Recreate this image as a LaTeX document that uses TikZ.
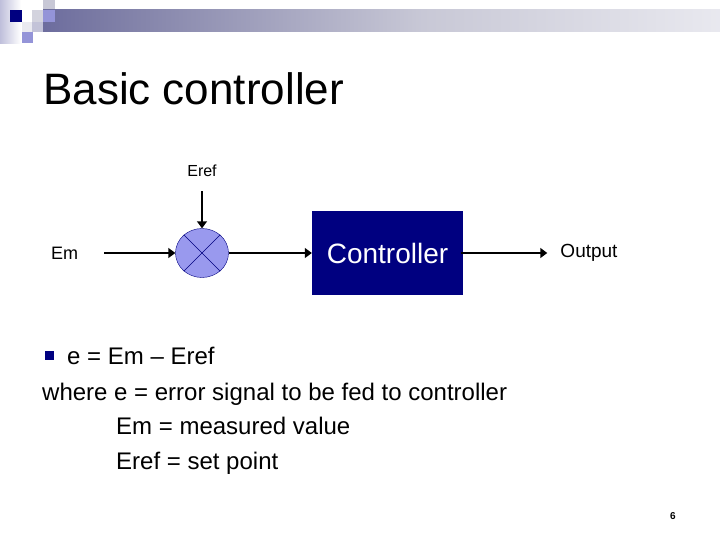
\documentclass[tikz,border=0pt]{standalone}
\usepackage{fontspec}
\setmainfont{Liberation Sans}
\usetikzlibrary{shapes.geometric}
\usetikzlibrary{arrows.meta}

\definecolor{slidenavy}{RGB}{0,0,128}
\definecolor{barnavy}{RGB}{26,26,120}
\definecolor{barmid}{RGB}{122,122,164}
\definecolor{barlight}{RGB}{200,200,214}
\definecolor{barpale}{RGB}{234,234,240}
\definecolor{sumfill}{RGB}{153,153,238}
\pgfdeclarehorizontalshading{titlebar}{100bp}{color(0bp)=(barnavy); color(29bp)=(barmid); color(53bp)=(barlight); color(76bp)=(barpale); color(95bp)=(white); color(100bp)=(white)}

\tikzset{
  flow/.style={line width=1.5pt, -{Triangle[length=7pt,width=10pt]}},
  sumjunction/.style={ellipse, draw=slidenavy, fill=sumfill, minimum width=53pt, minimum height=49pt},
  ctrlbox/.style={rectangle, fill=slidenavy, text=white, minimum width=151pt, minimum height=84pt, font=\fontsize{28}{32}\selectfont},
  bodytext/.style={anchor=base west, font=\fontsize{24}{28}\selectfont}
}

\begin{document}
\begin{tikzpicture}[x=1pt, y=-1pt, every node/.style={inner sep=0pt, font=\fontsize{18}{22}\selectfont}]
\useasboundingbox [fill=white] (0,0) rectangle (720,540);

% squares and bar at the top
\shade [left color=barlight!80!sumfill, right color=white] (0,0) rectangle (21,44);
\fill [slidenavy] (10,10) rectangle (22,22);
\fill [barpale] (22,22) rectangle (32,32);
\fill [barlight!80] (32,10) rectangle (43,22);
\fill [barlight] (43,0) rectangle (55,10);
\shade [shading=titlebar] (43,10) rectangle (720,32);
\fill [sumfill!80!gray] (43,10) rectangle (55,22);
\fill [barlight!90!sumfill] (32,22) rectangle (43,32);
\fill [sumfill!80!gray] (22,32) rectangle (33,43);

\node [anchor=base west, font=\fontsize{44}{48}\selectfont] (title) at (43,105) {Basic controller};

% block diagram
\node [font=\fontsize{16}{20}\selectfont] (eref) at (202,171) {Eref};
\node (em) at (64.5,253) {Em};
\node [sumjunction] (sum) at (202,253) {};
\draw [slidenavy] (sum.135) -- (sum.-45);
\draw [slidenavy] (sum.45) -- (sum.-135);
\node [ctrlbox] (ctrl) at (387.5,253) {Controller};
\node [font=\fontsize{19}{22}\selectfont] (out) at (589,253) {Output};

\draw [flow, shorten <=14pt] (eref) -- (sum);
\draw [flow, shorten <=26pt] (em) -- (sum);
\draw [flow] (sum) -- (ctrl);
\draw [flow, shorten <=-2pt, shorten >=13pt] (ctrl) -- (out);

% text below
\node [fill=slidenavy, minimum size=9pt] (bullet) at (49.5,355.5) {};
\node [bodytext] (eqn) at (67,364) {e = Em -- Eref};
\node [bodytext] (where) at (42,400) {where e = error signal to be fed to controller};
\node [bodytext] (emdef) at (116,434) {Em = measured value};
\node [bodytext] (erefdef) at (116,469) {Eref = set point};

\node [font=\bfseries\fontsize{10}{12}\selectfont] (page) at (673,516.5) {6};
\end{tikzpicture}
\end{document}
